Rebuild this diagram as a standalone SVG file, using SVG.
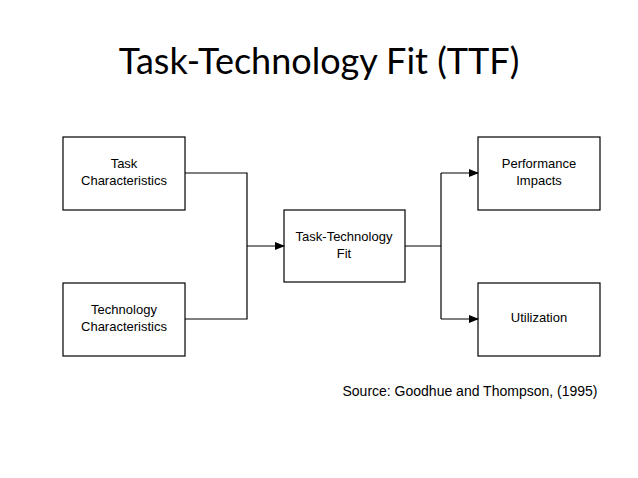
<svg xmlns="http://www.w3.org/2000/svg" width="638" height="478" viewBox="0 0 638 478">
<style>
.box{fill:#fff;stroke:#000;stroke-width:1.2}
.t{font-family:"Liberation Sans",Arial,sans-serif;font-size:13px;fill:#000;text-anchor:middle}
.c{fill:none;stroke:#000;stroke-width:1.2}
</style>
<defs><marker id="a" markerWidth="10" markerHeight="8" refX="9" refY="4" orient="auto" markerUnits="userSpaceOnUse"><path d="M0,0L10,4L0,8z" fill="#000"/></marker></defs>
<rect width="638" height="478" fill="#fff"/>
<text x="319" y="74" font-family="Lato,'Open Sans',sans-serif" font-size="36" text-anchor="middle">Task-Technology Fit (TTF)</text>
<g id="task"><rect class="box" x="63" y="137" width="122" height="73"/><text class="t" x="124" y="168">Task</text><text class="t" x="124" y="185">Characteristics</text></g>
<g id="tech"><rect class="box" x="63" y="283" width="122" height="73"/><text class="t" x="124" y="314">Technology</text><text class="t" x="124" y="331">Characteristics</text></g>
<g id="fit"><rect class="box" x="284" y="210" width="121" height="72"/><text class="t" x="344" y="241">Task-Technology</text><text class="t" x="344" y="258">Fit</text></g>
<g id="perf"><rect class="box" x="478" y="137" width="122" height="73"/><text class="t" x="539" y="168">Performance</text><text class="t" x="539" y="185">Impacts</text></g>
<g id="util"><rect class="box" x="478" y="283" width="122" height="73"/><text class="t" x="539" y="322">Utilization</text></g>
<g id="connectors">
<path class="c" d="M185,173H247V319H185"/>
<path class="c" d="M247,246H284" marker-end="url(#a)"/>
<path class="c" d="M405,246H441"/>
<path class="c" d="M441,173V319"/>
<path class="c" d="M441,173H478" marker-end="url(#a)"/>
<path class="c" d="M441,319H478" marker-end="url(#a)"/>
</g>
<text x="470" y="396" font-family="Liberation Sans,Arial,sans-serif" font-size="14" text-anchor="middle">Source: Goodhue and Thompson, (1995)</text>
</svg>
